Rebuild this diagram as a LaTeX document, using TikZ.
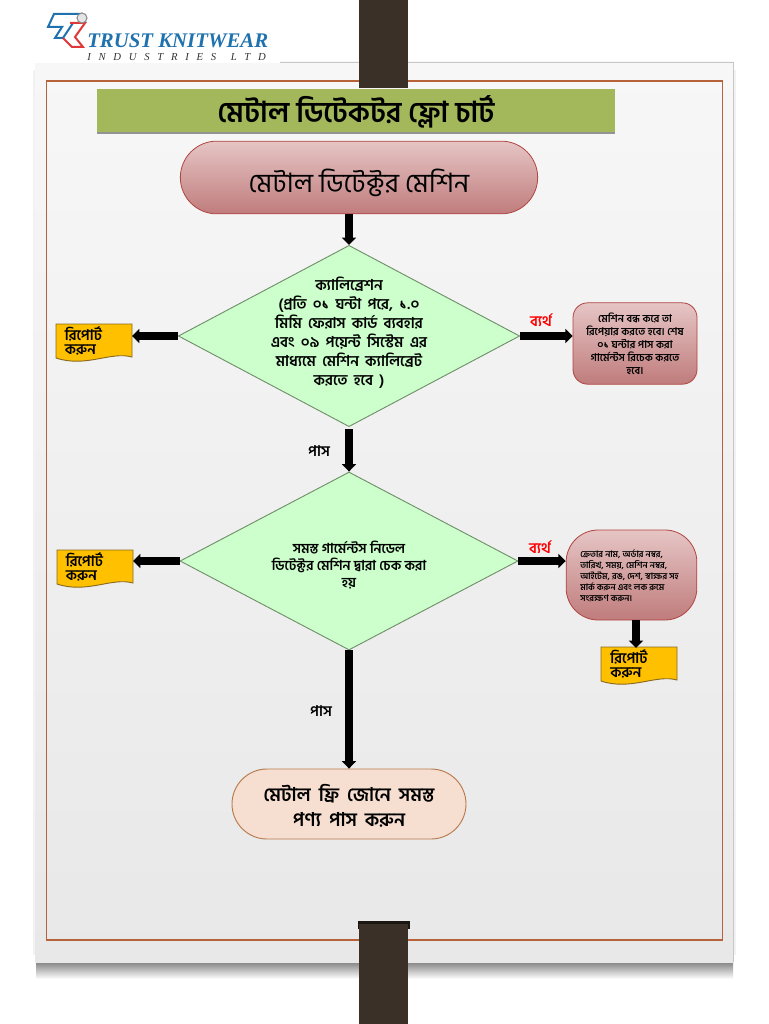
\documentclass[tikz,border=0pt]{standalone}
\usepackage{fontspec}
\usetikzlibrary{arrows.meta,shapes.geometric,shapes.misc,shadows}
\newfontfamily\bn[Script=Bengali]{Hind Siliguri}
\newfontfamily\logoserif{Liberation Serif}
\newcommand{\widesp}{\spaceskip=0.42em\relax}
\definecolor{paperTop}{HTML}{F7F7F7}
\definecolor{paperMid}{HTML}{F3F3F3}
\definecolor{paperBot}{HTML}{E8E8E8}
\definecolor{strap}{HTML}{3A3027}
\definecolor{frameC}{HTML}{B8623A}
\definecolor{titleC}{HTML}{A3B85A}
\definecolor{pinkTop}{HTML}{E6C5C5}
\definecolor{pinkBot}{HTML}{C07C7C}
\definecolor{redEdge}{HTML}{B0443F}
\definecolor{diaFill}{HTML}{CCFFCC}
\definecolor{diaEdge}{HTML}{70906A}
\definecolor{endFill}{HTML}{F6DFD0}
\definecolor{endEdge}{HTML}{B87A50}
\definecolor{repFill}{HTML}{FFC000}
\definecolor{repEdge}{HTML}{8A6A20}
\definecolor{logoBlue}{HTML}{1F72AE}
\definecolor{logoRed}{HTML}{E0383A}
\tikzset{
  arr/.style={line width=5.6pt,draw=black,-{Triangle[length=5.5pt,width=10.5pt]}},
  pinkbox/.style={draw=redEdge,line width=0.6pt,top color=pinkTop,bottom color=pinkBot,align=center,inner sep=0pt,font=\bn},
  dia/.style={diamond,draw=diaEdge,line width=0.7pt,fill=diaFill,inner sep=0pt,minimum width=256pt,minimum height=136pt,shape aspect=1.88},
  diatext/.style={align=center,inner sep=0pt,font=\bn\bfseries\fontsize{11.2}{14.2}\selectfont},
  diatextb/.style={align=center,inner sep=0pt,font=\bn\bfseries\fontsize{10.3}{13}\selectfont},
  reptext/.style={align=left,inner sep=0pt,text width=46pt,font=\bn\bfseries\fontsize{11}{10.5}\selectfont},
  passlabel/.style={inner sep=0pt,font=\bn\bfseries\fontsize{11}{12}\selectfont},
  faillabel/.style={inner sep=0pt,text=red,font=\bn\bfseries\fontsize{11}{12}\selectfont},
  repshape/.style={fill=repFill,draw=repEdge,line width=0.7pt}
}
\newcommand{\repdoc}[2]{% left, top in px
  \path[repshape,shift={(#1,#2)}] (0,0) -- (76,0) -- (76,33) .. controls (55,27) and (30,44) .. (0,34) -- cycle;}
\begin{document}
\begin{tikzpicture}[x=0.75pt,y=-0.75pt]
\useasboundingbox (0,0) rectangle (768,1024);
\fill[white] (0,0) rectangle (768,1024);
% paper shadow
\shade[top color=black!48,bottom color=white] (36,962) rectangle (733,979);
\fill[black!5] (33,70) rectangle (35,955);
\fill[black!5] (733,70) rectangle (736,955);
% paper
\shade[top color=paperTop,middle color=paperMid,bottom color=paperBot] (35,62) rectangle (733,962);
\draw[black!22,line width=0.5pt] (35,62) -- (733,62) -- (733,962);
\draw[frameC,line width=0.8pt] (46.5,81) rectangle (722.5,940);
% straps
\fill[strap] (359,0) rectangle (408,88);
\fill[black!55!strap] (358,921) rectangle (410,929);
\fill[strap] (359,924) rectangle (408,1024);
% logo
\fill[white] (30,0) rectangle (280,63);
\draw[logoBlue,line width=1.5pt,line join=miter] (82,14) -- (54,14) -- (48,27) -- (62,27) -- (55,38) -- (63,38) -- (73,23);
\draw[logoRed,line width=1.5pt,line join=miter] (70,23) -- (85,23) -- (75,37) -- (83,47) -- (72,47) -- (63,38);
\draw[black!45,fill=white!90!black,line width=0.8pt] (82,18) circle (5);
\node[inner sep=0pt,anchor=west,text=logoBlue] (logoname) at (87,41)
  {\logoserif\bfseries\itshape\fontsize{15.6}{16}\selectfont TRUST KNITWEAR};
\node[inner sep=0pt,anchor=west,text=black!80] (logosub) at (87,57)
  {\logoserif\itshape\fontsize{8}{8}\selectfont I\hspace{5.8pt}N\hspace{5.8pt}D\hspace{5.8pt}U\hspace{5.8pt}S\hspace{5.8pt}T\hspace{5.8pt}R\hspace{5.8pt}I\hspace{5.8pt}E\hspace{5.8pt}S\hspace{11pt}L\hspace{5.8pt}T\hspace{5.8pt}D};
% title
\node[fill=titleC,minimum width=388.5pt,minimum height=32pt,inner sep=0pt,
  general shadow={shadow xshift=0pt,shadow yshift=-1.5pt,fill=black,opacity=0.4}] (title) at (356,110.5) {};
\node[inner sep=0pt,font=\bn\bfseries\fontsize{21.6}{24}\selectfont] (titlet) at (356,112) {মেটাল ডিটেকটর ফ্লো চার্ট};
% terminal
\node[pinkbox,rounded rectangle,minimum width=268pt,minimum height=54.5pt] (start) at (359,177.5) {};
\node[inner sep=0pt,font=\bn\fontsize{20}{22}\selectfont] (startt) at (359,183) {মেটাল ডিটেক্টর মেশিন};
% decisions
\node[dia] (d1) at (349,336) {};
\node[diatext] (d1t) at (349,333) {\widesp ক্যালিব্রেশন\\\widesp (প্রতি ০১ ঘন্টা পরে, ১.০\\\widesp মিমি ফেরাস কার্ড ব্যবহার\\\widesp এবং ০৯ পয়েন্ট সিস্টেম এর\\\widesp মাধ্যমে মেশিন ক্যালিব্রেট\\\widesp করতে হবে )};
\node[dia,minimum width=253.5pt,minimum height=133.5pt] (d2) at (349,561) {};
\node[diatextb] (d2t) at (349,565) {সমস্ত গার্মেন্টস নিডেল\\ডিটেক্টর মেশিন দ্বারা চেক করা\\হয়};
% side boxes
\node[pinkbox,rounded corners=11pt,minimum width=93pt,minimum height=61pt,font=\bn\bfseries\fontsize{7.9}{9.7}\selectfont] (b1) at (635,343.5) {মেশিন বন্ধ করে তা\\রিপেয়ার করতে হবে। শেষ\\০১ ঘন্টার পাস করা\\গার্মেন্টস রিচেক করতে\\হবে।};
\node[pinkbox,rounded corners=24pt,minimum width=98pt,minimum height=67.5pt] (b2) at (631.5,575) {};
\node[inner sep=0pt,align=left,anchor=west,font=\bn\bfseries\fontsize{6.6}{8.2}\selectfont] (b2t) at (580,576) {ক্রেতার নাম, অর্ডার নম্বর,\\তারিখ, সময়, মেশিন নম্বর,\\আইটেম, রঙ, দেশ, স্বাক্ষর সহ\\মার্ক করুন এবং লক রুমে\\সংরক্ষণ করুন।};
% end
\node[rounded rectangle,draw=endEdge,fill=endFill,line width=0.7pt,minimum width=175.5pt,minimum height=52.5pt,inner sep=0pt] (e) at (349,804) {};
\node[align=center,inner sep=0pt,font=\bn\bfseries\fontsize{14.2}{18.4}\selectfont] (et) at (349,806) {\widesp মেটাল ফ্রি জোনে সমস্ত\\\widesp পণ্য পাস করুন};
% report shapes
\repdoc{56}{324}
\node[reptext] (r1) at (95.5,341) {রিপোর্ট\\করুন};
\repdoc{57}{550}
\node[reptext] (r2) at (96.5,567) {রিপোর্ট\\করুন};
\repdoc{601}{647}
\node[reptext] (r3) at (641,664) {রিপোর্ট\\করুন};
\coordinate (r1e) at (132,336);
\coordinate (r2e) at (133,561);
\coordinate (r3n) at (636,648);
% connectors
\draw[arr] (start.south -| d1.north) -- (d1.north);
\draw[arr] ([yshift=-1.5pt]d1.south) -- (d2.north);
\draw[arr] (d2.south) -- (e.north);
\draw[arr] (d1.east) -- (b1.west |- d1.east);
\draw[arr] (d1.west) -- (r1e);
\draw[arr] (d2.east) -- (b2.west |- d2.east);
\draw[arr] (d2.west) -- (r2e);
\draw[arr] (b2.south -| r3n) -- (r3n);
% labels
\node[passlabel] (p1) at (319,451) {পাস};
\node[passlabel] (p2) at (321,711) {পাস};
\node[faillabel] (f1) at (541,320) {ব্যর্থ};
\node[faillabel] (f2) at (540,547) {ব্যর্থ};
\end{tikzpicture}
\end{document}
